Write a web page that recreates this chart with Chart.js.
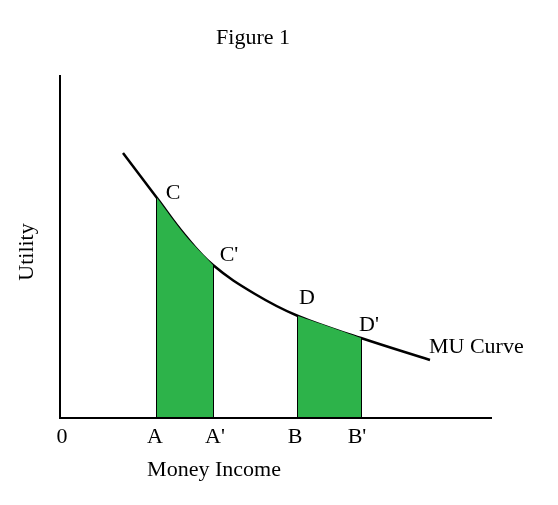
<!DOCTYPE html>
<html>
<head>
<meta charset="utf-8">
<script src="https://cdn.jsdelivr.net/npm/chart.js@4/dist/chart.umd.min.js"></script>
<style>body{margin:0;background:#fff}</style>
</head>
<body>
<canvas id="c" width="558" height="505"></canvas>
<script>
// MU curve points (x = money income, y = utility)
const curveX = [63, 97, 125, 153, 195, 238, 301, 370];
const curveY = [265, 220, 183, 153, 124, 102, 80, 58];
// shaded areas
const areaCX = [97, 125, 153];
const areaCY = [220, 183, 153];
const areaDX = [238, 270, 301];
const areaDY = [102, 91, 80];
// tick labels on x axis
const tickLabels = ['0', 'A', "A'", 'B', "B'"];
const tickValues = [2, 95, 155, 235, 297];
// point labels
const pointLabels = ['C', "C'", 'D', "D'"];
const pointLabelX = [113, 169, 247, 309];
const pointLabelY = [225, 163, 120, 93];

const green = '#2db34a';
const pts = (xs, ys) => xs.map((x, i) => ({ x: x, y: ys[i] }));
const vline = (x, y) => ({
  data: [{ x: x, y: 0 }, { x: x, y: y }],
  borderColor: '#000', borderWidth: 2, pointRadius: 0, fill: false
});

const textPlugin = {
  id: 'texts',
  afterDraw(chart) {
    const ctx = chart.ctx, a = chart.chartArea;
    const xs = chart.scales.x, ys = chart.scales.y;
    ctx.save();
    ctx.strokeStyle = '#000';
    ctx.lineWidth = 2;
    ctx.beginPath();
    ctx.moveTo(a.left, a.top);
    ctx.lineTo(a.left, a.bottom);
    ctx.lineTo(a.right, a.bottom);
    ctx.stroke();
    ctx.fillStyle = '#000';
    ctx.font = '22px "Liberation Serif"';
    ctx.textAlign = 'center';
    ctx.textBaseline = 'middle';
    ctx.fillText('Figure 1', 253, 38);
    ctx.fillText('Money Income', 214, 470);
    tickLabels.forEach((t, i) => ctx.fillText(t, xs.getPixelForValue(tickValues[i]), 437));
    pointLabels.forEach((t, i) => ctx.fillText(t, xs.getPixelForValue(pointLabelX[i]), ys.getPixelForValue(pointLabelY[i])));
    ctx.textAlign = 'left';
    ctx.fillText('MU Curve', 429, 347);
    ctx.translate(27, 252);
    ctx.rotate(-Math.PI / 2);
    ctx.textAlign = 'center';
    ctx.fillText('Utility', 0, 0);
    ctx.restore();
  }
};

new Chart(document.getElementById('c'), {
  type: 'line',
  data: {
    datasets: [
      { data: pts(areaCX, areaCY), borderWidth: 0, pointRadius: 0, fill: 'origin', backgroundColor: green, tension: 0.3 },
      { data: pts(areaDX, areaDY), borderWidth: 0, pointRadius: 0, fill: 'origin', backgroundColor: green, tension: 0.3 },
      vline(areaCX[0], areaCY[0]),
      vline(areaCX[2], areaCY[2]),
      vline(areaDX[0], areaDY[0]),
      vline(areaDX[2], areaDY[2]),
      { data: pts(curveX, curveY), borderColor: '#000', borderWidth: 2.5, pointRadius: 0, fill: false, tension: 0.4 }
    ]
  },
  options: {
    responsive: false,
    animation: false,
    layout: { padding: { left: 60, right: 66, top: 75, bottom: 87 } },
    plugins: { legend: { display: false }, tooltip: { enabled: false } },
    scales: {
      x: { type: 'linear', min: 0, max: 432, display: false },
      y: { min: 0, max: 343, display: false }
    }
  },
  plugins: [textPlugin]
});
</script>
</body>
</html>
